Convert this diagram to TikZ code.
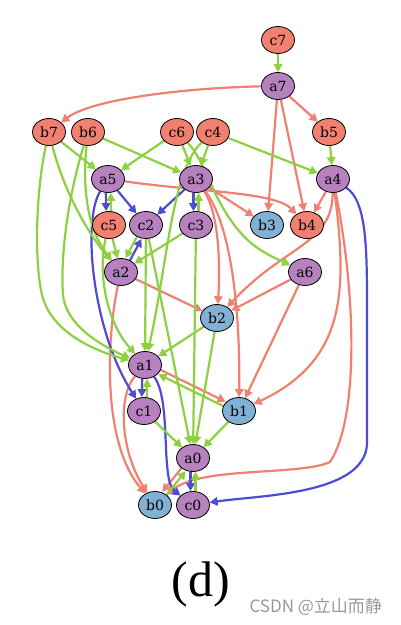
\documentclass[tikz,border=0pt]{standalone}
\usepackage{fontspec}
\newfontfamily\nodef{DejaVu Serif}
\newfontfamily\timesf{Liberation Serif}
\newfontfamily\cjk{Noto Sans CJK SC}
\usetikzlibrary{arrows.meta,shapes.geometric}
\pgfdeclarelayer{edgelayer}
\pgfsetlayers{edgelayer,main}
\definecolor{nred}{RGB}{242,128,112}
\definecolor{npur}{RGB}{183,128,190}
\definecolor{nblu}{RGB}{128,176,212}
\definecolor{egrn}{RGB}{141,208,64}
\definecolor{ered}{RGB}{240,128,112}
\definecolor{eblu}{RGB}{76,76,214}
\tikzset{
  nd/.style={ellipse,draw=black,line width=0.8pt,minimum width=33pt,minimum height=27pt,inner sep=0pt,font=\nodef\fontsize{14}{14}\selectfont},
  rn/.style={nd,fill=nred},
  pn/.style={nd,fill=npur},
  bn/.style={nd,fill=nblu},
  edge/.style={line width=2.2pt,-{Triangle[length=8pt,width=8.5pt]}},
  ge/.style={edge,draw=egrn},
  re/.style={edge,draw=ered},
  be/.style={edge,draw=eblu}
}
\begin{document}
\begin{tikzpicture}[x=1pt,y=-1pt]
\useasboundingbox (0,0) rectangle (400,625);
\begin{pgfonlayer}{edgelayer}
\fill[white] (0,0) rectangle (400,625);
\end{pgfonlayer}
% nodes
\node[rn] (c7) at (278,40) {c7};
\node[pn] (a7) at (278,86) {a7};
\node[rn] (b7) at (49,132) {b7};
\node[rn] (b6) at (88,132) {b6};
\node[rn] (c6) at (177,132) {c6};
\node[rn] (c4) at (213,132) {c4};
\node[rn] (b5) at (329,132) {b5};
\node[pn] (a5) at (108,179) {a5};
\node[pn] (a3) at (196,179) {a3};
\node[pn] (a4) at (333,179) {a4};
\node[rn] (c5) at (109,225) {c5};
\node[pn] (c2) at (146,225) {c2};
\node[pn] (c3) at (196,225) {c3};
\node[bn] (b3) at (267,225) {b3};
\node[rn] (b4) at (307,225) {b4};
\node[pn] (a2) at (121,272) {a2};
\node[pn] (a6) at (305,272) {a6};
\node[bn] (b2) at (217,318) {b2};
\node[pn] (a1) at (145,365) {a1};
\node[pn] (c1) at (144,411) {c1};
\node[bn] (b1) at (239,411) {b1};
\node[pn] (a0) at (193,458) {a0};
\node[bn] (b0) at (155,505) {b0};
\node[pn] (c0) at (193,505) {c0};
\begin{pgfonlayer}{edgelayer}
% red edges
\draw[re] (a7) .. controls (180,88) and (90,100) .. (b7);
\draw[re] (a7) -- (b5);
\draw[re] (a7) -- (b3);
\draw[re] (a7) -- (b4);
\draw[re] (a5) .. controls (200,192) and (275,192) .. (b4);
\draw[re] (a3) -- (b3);
\draw[re] (a3) .. controls (220,215) and (220,270) .. (b2);
\draw[re] (a3) .. controls (235,230) and (240,330) .. (b1);
\draw[re] (a4) -- (b4);
\draw[re] (a4) .. controls (332,245) and (285,245) .. (b2);
\draw[re] (a4) .. controls (347,290) and (347,360) .. (b1);
\draw[re] (a4) .. controls (357,300) and (358,420) .. (330,462) .. controls (300,476) and (200,466) .. (b0);
\draw[re] (a6) -- (b2);
\draw[re] (a6) -- (b1);
\draw[re] (a2) -- (b2);
\draw[re] (a2) .. controls (108,330) and (100,440) .. (b0);
\draw[re] (a1) .. controls (118,395) and (120,450) .. (b0);
\draw[re,transform canvas={shift={(1.1,-2.2)}}] (a1) -- (b1);
\draw[re,transform canvas={shift={(-2,-1.6)}}] (a0) -- (b0);
% blue edges
\draw[be,transform canvas={shift={(-2.5,0)}}] (a5) -- (c5);
\draw[be] (a5) -- (c2);
\draw[be] (a3) -- (c2);
\draw[be,transform canvas={shift={(-2.5,0)}}] (a3) -- (c3);
\draw[be,transform canvas={shift={(2.2,1.2)}}] (a2) -- (c2);
\draw[be] (a5) .. controls (82,220) and (92,330) .. (c1);
\draw[be,transform canvas={shift={(-2.5,0)}}] (a1) -- (c1);
\draw[be] (a1) .. controls (172,400) and (160,480) .. (c0);
\draw[be,transform canvas={shift={(-2.5,0)}}] (a0) -- (c0);
\draw[be] (a4) .. controls (365,200) and (367,240) .. (367,300) -- (367,440) .. controls (370,495) and (260,495) .. (c0);
% green edges
\draw[ge] (c7) -- (a7);
\draw[ge] (b5) -- (a4);
\draw[ge] (c4) -- (a4);
\draw[ge] (c4) -- (a3);
\draw[ge] (c6) -- (a3);
\draw[ge] (c6) -- (a5);
\draw[ge] (b7) -- (a5);
\draw[ge] (b6) -- (a3);
\draw[ge] (c6) .. controls (205,160) and (212,200) .. (240,232) .. controls (255,250) and (275,258) .. (a6);
\draw[ge,transform canvas={shift={(2.5,0)}}] (c5) -- (a5);
\draw[ge,transform canvas={shift={(2.5,0)}}] (c3) -- (a3);
\draw[ge,transform canvas={shift={(-2.2,-1.2)}}] (c2) -- (a2);
\draw[ge] (c5) -- (a2);
\draw[ge] (c3) -- (a2);
\draw[ge] (b7) .. controls (62,185) and (85,230) .. (a2);
\draw[ge] (b6) .. controls (82,190) and (88,230) .. (a2);
\draw[ge] (b7) .. controls (36,190) and (34,260) .. (42,295) .. controls (52,335) and (100,352) .. (a1);
\draw[ge] (b6) .. controls (70,190) and (60,250) .. (63,295) .. controls (66,325) and (100,345) .. (a1);
\draw[ge] (c5) .. controls (98,270) and (105,320) .. (a1);
\draw[ge] (c2) -- (a1);
\draw[ge] (c2) -- (a0);
\draw[ge] (c4) .. controls (172,170) and (168,260) .. (a1);
\draw[ge] (c3) -- (a0);
\draw[ge] (b2) -- (a0);
\draw[ge] (b2) -- (a1);
\draw[ge] (c1) -- (a0);
\draw[ge] (b1) -- (a0);
\draw[ge,transform canvas={shift={(2.5,0)}}] (c1) -- (a1);
\draw[ge,transform canvas={shift={(-1.1,2.2)}}] (b1) -- (a1);
\draw[ge,transform canvas={shift={(2,1.6)}}] (b0) -- (a0);
\draw[ge,transform canvas={shift={(2.5,0)}}] (c0) -- (a0);
\end{pgfonlayer}
% labels
\node[font=\timesf\fontsize{50}{50}\selectfont] (lab) at (201,584) {(d)};
\node[anchor=west,text=black!40,font=\cjk\fontsize{17}{17}\selectfont] (wm) at (246,607) {CSDN @立山而静};
\end{tikzpicture}
\end{document}
